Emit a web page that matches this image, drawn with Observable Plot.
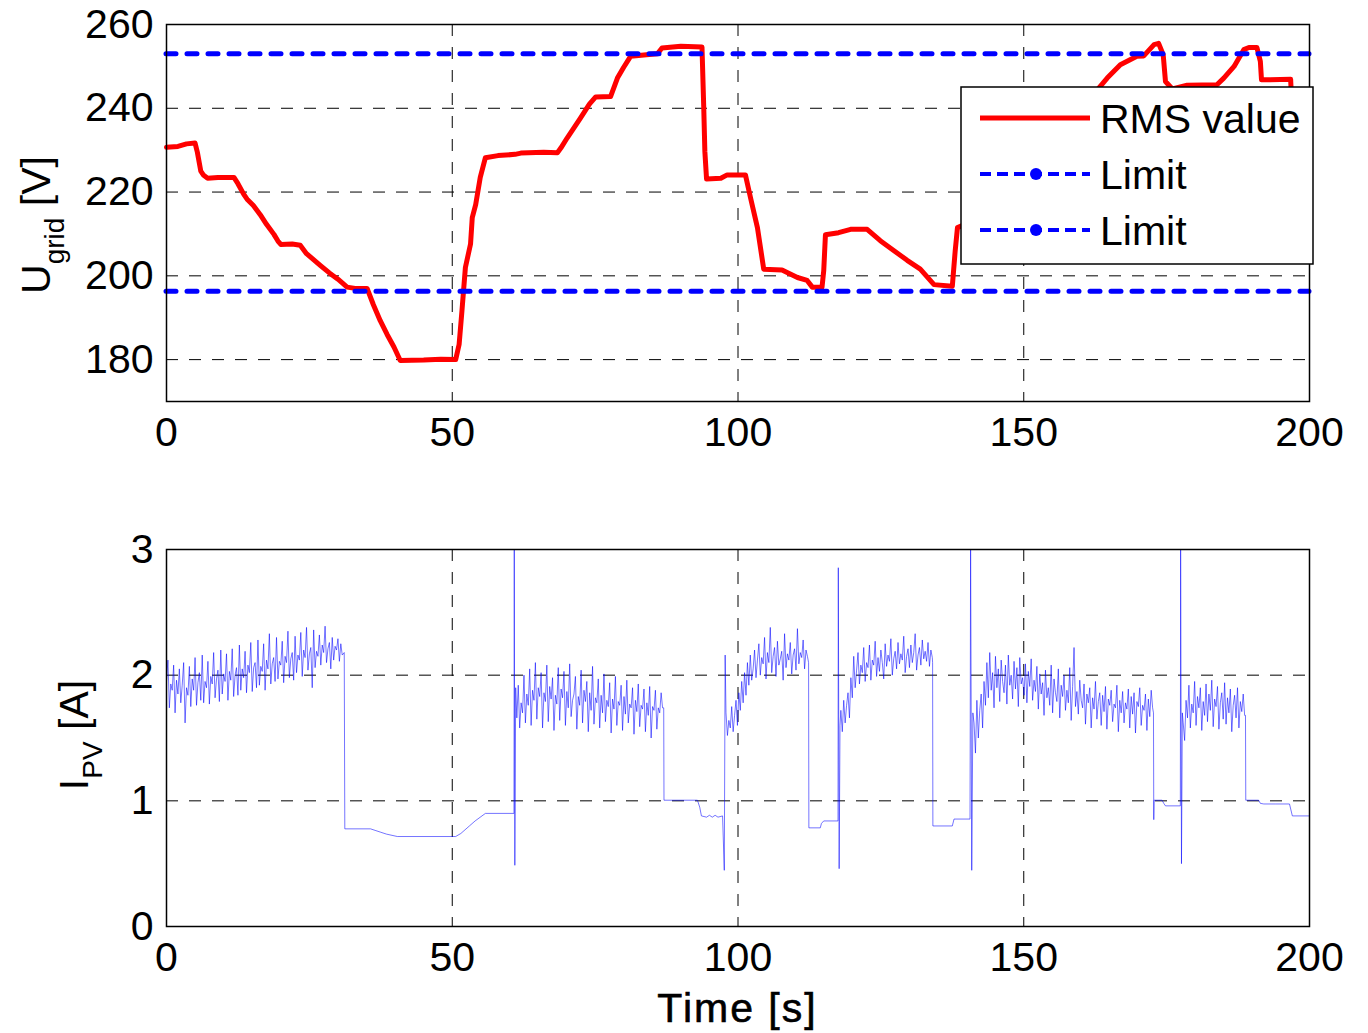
<!DOCTYPE html>
<html><head><meta charset="utf-8">
<script src="https://cdn.jsdelivr.net/npm/d3@7"></script>
<script src="https://cdn.jsdelivr.net/npm/@observablehq/plot@0.6"></script>
<style>
html,body{margin:0;padding:0;background:#fff;}
#chart{width:1368px;height:1033px;position:relative;background:#fff;}
#chart svg{display:block;}
</style></head><body><div id="chart"></div>
<script>
// ---------- DATA ----------
const xTicks = [0, 50, 100, 150, 200];
const gridX = [50, 100, 150];
const uTicks = [180, 200, 220, 240, 260];
const uGrid = [180, 200, 220, 240];
const iTicks = [0, 1, 2, 3];
const iGrid = [1, 2];
const limits = [253, 196.3];
const legendLabels = ["RMS value", "Limit", "Limit"];

// RMS grid voltage (time s, voltage V)
const rmsT = [0,2,3.5,5,5.4,6,6.5,7.2,9,11.8,12.5,13.5,14.1,15.2,16.4,17.5,18.8,19.5,20,22,23.4,24.5,26.9,28.5,30,31.6,33,35.1,36.2,37.4,38.6,39.8,40.9,45,48,50.6,51.2,51.7,52.3,53.2,53.5,54.1,54.9,55.8,58,61,62,66,68.4,69,70.1,72.4,74,75.1,77.7,78.9,80,81.2,84,85.9,86.7,90,93.7,94,94.2,94.5,97,98.1,101.3,102.2,103.4,104.5,107.7,110.4,112.1,113,114.7,115,115.3,117.6,119.7,122.6,124.9,127.3,129.6,131.9,134.3,137.5,138,138.4,141,145,150,155,160,162.8,164.6,166.9,169.8,171,172.8,173.6,174.4,174.8,176,178.6,183.8,185,186.8,188.5,189.4,190.8,191.4,191.6,196.7,197,200];
const rmsV = [230.7,230.9,231.5,231.7,229.5,225,224,223.3,223.5,223.5,222,219.5,218.3,216.8,214.6,212.3,209.9,208.3,207.5,207.6,207.3,205.3,202.5,200.7,199.2,197.3,197,197,193.1,189.3,186,183,179.8,179.9,180.1,180,183.6,191.7,202,207.6,213.9,217,223.5,228.2,228.7,229,229.3,229.5,229.4,230.5,232.9,237.6,241,242.7,242.8,247.2,249.8,252.4,252.8,253,254.4,254.8,254.6,240.5,229.7,223.1,223.3,224.1,224.1,218.6,211.5,201.6,201.4,199.6,198.9,197.3,197.3,201.2,209.8,210.3,211.1,211.1,208.4,206,203.7,201.6,197.9,197.5,205.9,211.5,213,219,226,233,240,244.3,247.2,250.4,252.4,252.5,255.2,255.5,252.8,246.4,244.6,245.5,245.6,247.2,250,254,254.5,254.5,251.2,246.8,246.9,238,237];

// PV current: noisy MPPT segments sampled every noiseStep seconds
const noiseStep = 0.25;
const noiseStart = [0, 61.3, 97.9, 118.0, 141.3, 177.9];
const noise1 = [1.95,2.12,1.74,1.93,1.88,2.08,1.70,1.96,1.85,2.05,
1.78,1.92,2.10,1.62,1.90,1.84,2.07,1.75,1.97,1.88,
2.14,1.76,1.94,2.02,1.80,2.16,1.78,1.95,1.90,2.11,
1.77,1.99,1.93,2.18,1.82,1.97,2.04,1.79,2.20,1.85,
2.01,1.95,2.17,1.80,2.03,1.96,2.21,1.83,2.00,2.06,
1.84,2.24,1.88,2.05,1.98,2.19,1.86,2.08,2.02,2.26,
1.87,2.06,2.10,1.90,2.28,1.92,2.07,2.03,2.25,1.88,
2.12,2.05,2.33,1.93,2.09,2.14,1.95,2.30,1.97,2.11,
2.08,2.27,1.94,2.15,2.10,2.35,1.98,2.13,2.18,1.96,
2.31,2.02,2.16,2.12,2.34,1.99,2.20,2.14,2.38,2.04,
2.17,2.22,1.90,2.36,2.06,2.19,2.15,2.32,2.08,2.24,
2.18,2.39,2.10,2.21,2.26,2.05,2.30,2.12,2.23,2.20,
2.29,2.11,2.25,2.16];
const noise2 = [1.66,1.92,1.58,1.78,1.70,2.00,1.62,1.85,1.76,2.05,
1.60,1.88,1.80,2.10,1.65,1.90,1.83,2.02,1.58,1.86,
1.79,2.08,1.63,1.91,1.81,1.98,1.56,1.84,1.77,2.06,
1.64,1.89,1.82,2.03,1.60,1.87,1.74,2.09,1.67,1.80,
1.85,1.99,1.57,1.83,1.76,2.04,1.62,1.88,1.79,1.95,
1.55,1.86,1.72,2.07,1.61,1.82,1.78,1.97,1.58,1.84,
1.70,2.01,1.63,1.80,1.75,1.94,1.54,1.81,1.73,1.99,
1.60,1.79,1.76,1.92,1.56,1.83,1.69,1.96,1.62,1.77,
1.74,1.90,1.53,1.80,1.71,1.93,1.59,1.76,1.73,1.89,
1.55,1.78,1.68,1.91,1.50,1.75,1.72,1.88,1.57,1.74,
1.70,1.86,1.74];
const noise3 = [1.70,1.52,1.64,1.58,1.75,1.55,1.68,1.80,1.60,1.86,
1.72,1.95,1.78,2.02,1.84,2.10,1.92,2.16,1.96,2.05,
2.20,1.98,2.12,2.25,2.00,2.14,2.09,2.30,1.97,2.18,
2.10,2.38,2.02,2.15,2.22,1.99,2.27,2.08,2.13,2.19,
1.96,2.33,2.06,2.17,2.12,2.26,2.01,2.16,2.21,2.04,
2.37,2.09,2.18,2.14,2.28,2.05,2.20,2.15];
const noise4 = [1.72,1.55,1.80,1.62,1.76,1.86,1.66,1.98,1.82,2.15,
1.90,2.04,2.18,1.93,2.08,2.02,2.22,1.95,2.10,2.06,
2.24,1.96,2.12,2.08,2.27,1.99,2.14,2.03,2.20,2.10,
1.97,2.25,2.07,2.16,2.11,2.29,2.00,2.13,2.19,2.05,
2.26,2.09,2.17,2.12,2.31,2.02,2.15,2.21,2.06,2.24,
2.10,2.18,2.33,2.04,2.16,2.22,2.08,2.28,2.13,2.19,
2.11,2.26,2.07,2.20,2.14];
const noise5 = [1.62,1.38,1.80,1.50,1.72,1.85,1.58,1.95,1.76,2.10,
1.82,2.18,1.88,2.02,1.74,2.15,1.90,2.05,1.79,2.12,
1.95,1.86,2.08,1.77,2.16,1.92,2.00,1.81,2.11,1.89,
2.06,1.75,2.14,1.93,1.98,1.84,2.09,1.78,2.03,1.91,
2.13,1.80,1.96,1.87,2.07,1.73,2.01,1.85,1.94,1.68,
2.04,1.82,1.90,1.76,2.08,1.70,1.97,1.86,1.79,2.05,
1.66,1.92,1.83,2.00,1.72,1.88,1.78,2.06,1.64,1.91,
2.22,1.75,1.87,1.69,1.96,1.80,1.74,1.93,1.61,1.85,
1.78,1.90,1.58,1.82,1.73,1.95,1.65,1.79,1.86,1.60,
1.84,1.71,1.91,1.57,1.81,1.76,1.88,1.63,1.77,1.74,
1.92,1.55,1.80,1.70,1.87,1.62,1.78,1.73,1.89,1.58,
1.83,1.69,1.86,1.54,1.79,1.75,1.90,1.60,1.76,1.72,
1.85,1.56,1.81,1.67,1.88,1.74];
const noise6 = [1.62,1.48,1.80,1.66,1.92,1.58,1.77,1.70,1.95,1.60,
1.83,1.74,1.90,1.56,1.79,1.68,1.93,1.63,1.85,1.72,
1.96,1.59,1.81,1.75,1.91,1.57,1.78,1.86,1.65,1.94,
1.61,1.82,1.70,1.89,1.55,1.76,1.84,1.66,1.90,1.58,
1.79,1.71,1.85,1.68];
// steady / transient parts following each noisy segment: [t, I]
const after1 = [[31.1,2.18],[31.2,0.777],[35.7,0.777],[36.5,0.765],[37.5,0.75],[38.5,0.735],[40.4,0.716],[50.6,0.716],[51.5,0.74],[53,0.80],[54,0.84],[55.8,0.90],[60.8,0.90],[60.85,3.05],[60.95,0.487],[61.1,1.9]];
const after2 = [[87.0,1.74],[87.05,1.005],[92.9,1.005],[93.3,0.95],[93.6,0.88],[94.5,0.87],[95.0,0.885],[95.5,0.87],[96.0,0.885],[96.5,0.87],[97.3,0.88],[97.6,0.447],[97.75,2.16]];
const after3 = [[112.35,2.1],[112.4,0.785],[114.4,0.785],[114.6,0.82],[115,0.84],[117.5,0.84],[117.55,2.855],[117.7,0.46],[117.85,1.6]];
const after4 = [[134.05,2.1],[134.1,0.80],[137.5,0.80],[137.8,0.855],[140.6,0.855],[140.7,3.05],[140.9,0.447],[141.1,1.7]];
const after5 = [[172.7,1.7],[172.75,0.85],[172.8,1.005],[174.2,1.005],[174.5,0.98],[174.8,0.96],[177.4,0.96],[177.45,3.05],[177.6,0.50],[177.75,1.7]];
const after6 = [[188.8,1.68],[188.85,1.005],[191.1,1.005],[191.4,0.98],[192,0.975],[194,0.975],[196.5,0.975],[197,0.88],[200,0.88]];

// ---------- BUILD TABLES ----------
const rms = rmsT.map((t, i) => ({t, v: rmsV[i]}));
const noises = [noise1, noise2, noise3, noise4, noise5, noise6];
const afters = [after1, after2, after3, after4, after5, after6];
const ipv = [];
noises.forEach((arr, k) => {
  arr.forEach((v, i) => ipv.push({t: noiseStart[k] + i * noiseStep, i: v}));
  afters[k].forEach(([t, v]) => ipv.push({t, i: v}));
});

// ---------- PLOTS ----------
const FONT = '"Liberation Sans", Arial, Helvetica, sans-serif';
const W = 1368;
const gridStyle = {stroke: "black", strokeWidth: 1, strokeDasharray: "12,11"};
const baseStyle = {fontFamily: FONT, fontSize: "41px", color: "black", background: "white", overflow: "visible"};

const topPlot = Plot.plot({
  width: W, height: 470,
  marginLeft: 166, marginRight: 59, marginTop: 24, marginBottom: 69,
  style: baseStyle,
  x: {domain: [0, 200], ticks: xTicks, tickSize: 0, tickPadding: 15, tickFormat: d3.format("d"), label: null},
  y: {domain: [170, 260], ticks: uTicks, tickSize: 0, tickPadding: 13, tickFormat: d3.format("d"), label: null},
  marks: [
    Plot.ruleX(gridX, gridStyle),
    Plot.ruleY(uGrid, gridStyle),
    Plot.line(rms, {x: "t", y: "v", stroke: "#ff0000", strokeWidth: 5, strokeLinejoin: "round", strokeLinecap: "round"}),
    Plot.ruleY(limits, {stroke: "#0000ff", strokeWidth: 5, strokeDasharray: "10,11", strokeLinecap: "round"}),
    Plot.frame({stroke: "black", strokeWidth: 1.5})
  ]
});

const botPlot = Plot.plot({
  width: W, height: 563,
  marginLeft: 166, marginRight: 59, marginTop: 79, marginBottom: 107,
  style: baseStyle,
  x: {domain: [0, 200], ticks: xTicks, tickSize: 0, tickPadding: 15, tickFormat: d3.format("d"), label: null},
  y: {domain: [0, 3], ticks: iTicks, tickSize: 0, tickPadding: 13, tickFormat: d3.format("d"), label: null},
  marks: [
    Plot.ruleX(gridX, gridStyle),
    Plot.ruleY(iGrid, gridStyle),
    Plot.line(ipv, {x: "t", y: "i", stroke: "#0000ff", strokeWidth: 0.55, clip: true}),
    Plot.frame({stroke: "black", strokeWidth: 1.5})
  ]
});

// ---------- LABELS ----------
function yLabel(svg, x, y, main, sub, rest) {
  const t = d3.select(svg).append("text")
    .attr("transform", `translate(${x},${y}) rotate(-90)`)
    .attr("text-anchor", "middle")
    .attr("fill", "black")
    .style("font-family", FONT).style("font-size", "41px");
  t.append("tspan").text(main);
  t.append("tspan").attr("dy", 14).style("font-size", "28px").text(sub);
  t.append("tspan").attr("dy", -14).text("\u00A0" + rest);
}
yLabel(topPlot, 50, 225, "U", "grid", "[V]");
yLabel(botPlot, 88, 265, "I", "PV", "[A]");

d3.select(botPlot).append("text")
  .attr("x", 737.5).attr("y", 552)
  .attr("text-anchor", "middle").attr("fill", "black")
  .style("font-family", FONT).style("font-size", "41px").style("letter-spacing", "2px")
  .style("stroke", "black").style("stroke-width", "0.6px")
  .text("Time [s]");

// ---------- LEGEND ----------
const lg = d3.select(topPlot).append("g");
lg.append("rect").attr("x", 961).attr("y", 87).attr("width", 352).attr("height", 177)
  .attr("fill", "white").attr("stroke", "black").attr("stroke-width", 1.5);
const rows = [118, 174, 230];
legendLabels.forEach((lab, k) => {
  const yy = rows[k];
  if (k === 0) {
    lg.append("line").attr("x1", 980).attr("x2", 1090).attr("y1", yy).attr("y2", yy)
      .attr("stroke", "#ff0000").attr("stroke-width", 5);
  } else {
    lg.append("line").attr("x1", 980).attr("x2", 1090).attr("y1", yy).attr("y2", yy)
      .attr("stroke", "#0000ff").attr("stroke-width", 4).attr("stroke-dasharray", "11,6");
    lg.append("circle").attr("cx", 1036).attr("cy", yy).attr("r", 6).attr("fill", "#0000ff");
  }
  lg.append("text").attr("x", 1100).attr("y", yy + 15).attr("text-anchor", "start")
    .attr("fill", "black").style("font-family", FONT).style("font-size", "41px").text(lab);
});

const chart = document.getElementById("chart");
chart.appendChild(topPlot);
chart.appendChild(botPlot);
</script></body></html>
